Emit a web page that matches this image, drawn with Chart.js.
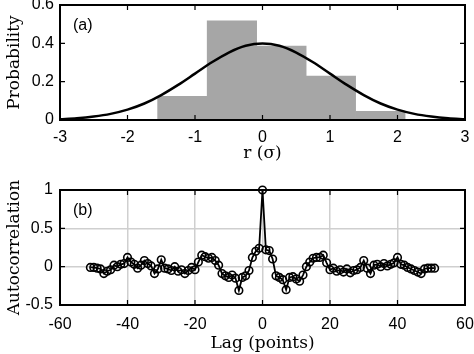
<!DOCTYPE html>
<html>
<head>
<meta charset="utf-8">
<script src="https://cdn.jsdelivr.net/npm/chart.js@4.4.0/dist/chart.umd.min.js"></script>
<style>
  html, body { margin: 0; padding: 0; background: #fff; }
  #wrap { position: relative; width: 474px; height: 354px; }
  .panel { position: absolute; left: 0; width: 474px; }
</style>
</head>
<body>
<div id="wrap">
  <div class="panel" style="top:0;height:170px"><canvas id="chartHist" width="474" height="170"></canvas></div>
  <div class="panel" style="top:170px;height:184px"><canvas id="chartAcf" width="474" height="184"></canvas></div>
</div>
<script>
// (a) histogram of r, in units of sigma
const binCenters = [-1.187, -0.453, 0.280, 1.013, 1.746];
const binProb    = [0.124, 0.517, 0.386, 0.229, 0.045];

// reference normal curve
const curveX = [-3, -2.75, -2.5, -2.25, -2, -1.75, -1.5, -1.25, -1, -0.75, -0.5, -0.25, 0,
                0.25, 0.5, 0.75, 1, 1.25, 1.5, 1.75, 2, 2.25, 2.5, 2.75, 3];
const curveY = [0.004, 0.009, 0.018, 0.032, 0.054, 0.086, 0.130, 0.183, 0.242, 0.301, 0.352, 0.387, 0.399,
                0.387, 0.352, 0.301, 0.242, 0.183, 0.130, 0.086, 0.054, 0.032, 0.018, 0.009, 0.004];

// (b) autocorrelation vs lag
const lags = [-51,-50,-49,-48,-47,-46,-45,-44,-43,-42,-41,-40,-39,-38,-37,-36,-35,-34,-33,-32,-31,-30,
              -29,-28,-27,-26,-25,-24,-23,-22,-21,-20,-19,-18,-17,-16,-15,-14,-13,-12,-11,-10,-9,-8,
              -7,-6,-5,-4,-3,-2,-1,0,1,2,3,4,5,6,7,8,9,10,11,12,13,14,15,16,17,18,19,20,21,22,23,24,
              25,26,27,28,29,30,31,32,33,34,35,36,37,38,39,40,41,42,43,44,45,46,47,48,49,50,51];
const acf = [-0.01,-0.01,-0.02,-0.03,-0.09,-0.06,-0.04,0.02,0.00,0.03,0.04,0.12,0.06,0.03,-0.02,0.02,0.08,0.04,0.01,-0.09,-0.03,0.09,
             -0.02,-0.03,-0.05,0.00,-0.06,-0.04,-0.09,-0.05,-0.01,-0.04,0.06,0.15,0.13,0.11,0.12,0.08,0.02,-0.09,-0.12,-0.14,-0.11,-0.15,
             -0.31,-0.14,-0.12,-0.05,0.12,0.20,0.24,1.00,0.22,0.21,0.10,-0.12,-0.14,-0.17,-0.30,-0.14,-0.13,-0.16,-0.19,-0.11,0.00,0.06,0.11,0.12,0.12,0.15,0.05,-0.04,-0.02,-0.06,-0.04,-0.07,
             -0.03,-0.08,-0.05,-0.04,-0.01,0.08,-0.02,-0.09,0.02,0.03,0.00,0.04,0.01,0.03,0.05,0.12,0.03,0.02,-0.01,-0.03,-0.05,-0.07,-0.09,-0.03,-0.02,-0.02,-0.02];

const TICK_FONT  = { family: '"Liberation Sans", Arial, sans-serif', size: 16 };
const TITLE_FONT = { family: '"DejaVu Serif", serif', size: 17 };
const plainNum = v => String(Number(v.toFixed(2)));   // 1 not 1.0

// box round the plot + inward tick marks on all four sides + panel letter
const framePlugin = {
  id: 'frame',
  afterDatasetsDraw(chart, args, opts) {
    const { ctx, chartArea: a, scales } = chart;
    const L = 5;
    ctx.save();
    ctx.strokeStyle = '#000';
    ctx.lineWidth = 1.2;
    ctx.beginPath();
    scales.x.ticks.forEach((t, i) => {
      const px = scales.x.getPixelForTick(i);
      ctx.moveTo(px, a.bottom); ctx.lineTo(px, a.bottom - L);
      ctx.moveTo(px, a.top);    ctx.lineTo(px, a.top + L);
    });
    scales.y.ticks.forEach((t, i) => {
      const py = scales.y.getPixelForTick(i);
      ctx.moveTo(a.left, py);  ctx.lineTo(a.left + L, py);
      ctx.moveTo(a.right, py); ctx.lineTo(a.right - L, py);
    });
    ctx.stroke();
    ctx.lineWidth = 2;
    ctx.strokeRect(a.left, a.top, a.right - a.left, a.bottom - a.top);
    ctx.fillStyle = '#000';
    ctx.font = '16px "Liberation Sans", Arial, sans-serif';
    ctx.textBaseline = 'middle';
    ctx.fillText(opts.label, a.left + 13, a.top + 21);
    ctx.restore();
  }
};

function fitY(s) { s.width = 60; s.paddingTop = 0; s.paddingBottom = 0; }

// (a)
new Chart(document.getElementById('chartHist'), {
  type: 'bar',
  data: {
    datasets: [
      {
        type: 'line',
        data: curveX.map((x, i) => ({ x, y: curveY[i] })),
        borderColor: '#000', borderWidth: 2.5, pointRadius: 0,
        tension: 0.4, cubicInterpolationMode: 'monotone', fill: false, order: 0
      },
      {
        type: 'bar',
        data: binCenters.map((x, i) => ({ x, y: binProb[i] })),
        backgroundColor: '#a6a6a6', borderWidth: 0,
        barPercentage: 1, categoryPercentage: 1, order: 1
      }
    ]
  },
  options: {
    responsive: false, animation: false, devicePixelRatio: 1,
    layout: { padding: { top: 5, right: 9, left: 0, bottom: 0 } },
    plugins: { legend: { display: false }, tooltip: { enabled: false }, frame: { label: '(a)' } },
    scales: {
      x: {
        type: 'linear', min: -3, max: 3, offset: false,
        ticks: { stepSize: 1, font: TICK_FONT, color: '#000', padding: 8, maxRotation: 0, callback: plainNum },
        grid: { display: false, drawTicks: false }, border: { display: false },
        title: { display: true, text: 'r (σ)', font: TITLE_FONT, color: '#000', padding: { top: 0, bottom: 6 } },
        afterFit(s) { s.height = 50; s.paddingLeft = 0; s.paddingRight = 0; }
      },
      y: {
        min: 0, max: 0.6,
        ticks: { stepSize: 0.2, font: TICK_FONT, color: '#000', padding: 6, callback: plainNum },
        grid: { display: false, drawTicks: false }, border: { display: false },
        title: { display: true, text: 'Probability', font: TITLE_FONT, color: '#000', padding: { top: 4, bottom: 0 } },
        afterFit: fitY
      }
    }
  },
  plugins: [framePlugin]
});

// (b)
new Chart(document.getElementById('chartAcf'), {
  type: 'line',
  data: {
    datasets: [{
      data: lags.map((x, i) => ({ x, y: acf[i] })),
      borderColor: '#000', borderWidth: 1.8,
      pointRadius: 3.8, pointBorderWidth: 1.6, pointBorderColor: '#000',
      pointBackgroundColor: 'rgba(0,0,0,0)', tension: 0, clip: false
    }]
  },
  options: {
    responsive: false, animation: false, devicePixelRatio: 1,
    layout: { padding: { top: 20, right: 9, left: 0, bottom: 0 } },
    plugins: { legend: { display: false }, tooltip: { enabled: false }, frame: { label: '(b)' } },
    scales: {
      x: {
        type: 'linear', min: -60, max: 60,
        ticks: { stepSize: 20, font: TICK_FONT, color: '#000', padding: 10, maxRotation: 0, callback: plainNum },
        grid: { color: '#cfcfcf', lineWidth: 1.5, drawTicks: false }, border: { display: false },
        title: { display: true, text: 'Lag (points)', font: TITLE_FONT, color: '#000', padding: { top: 0, bottom: 0 } },
        afterFit(s) { s.height = 49; s.paddingLeft = 0; s.paddingRight = 0; }
      },
      y: {
        min: -0.5, max: 1,
        ticks: { stepSize: 0.5, font: TICK_FONT, color: '#000', padding: 7, callback: plainNum },
        grid: { color: '#cfcfcf', lineWidth: 1.5, drawTicks: false }, border: { display: false },
        title: { display: true, text: 'Autocorrelation', font: TITLE_FONT, color: '#000', padding: { top: 4, bottom: 0 } },
        afterFit: fitY
      }
    }
  },
  plugins: [framePlugin]
});
</script>
</body>
</html>
